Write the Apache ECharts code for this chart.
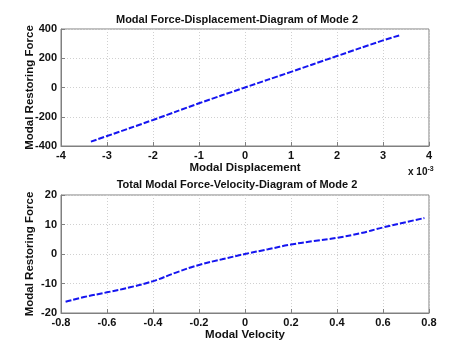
<!DOCTYPE html>
<html lang="en">
<head>
  <meta charset="UTF-8">
  <title>Modal Force Diagrams of Mode 2</title>
  <script src="https://cdn.jsdelivr.net/npm/echarts@6/dist/echarts.min.js"></script>
</head>
<style>
  body { margin: 0; background: #fff; }
  #main { width: 474px; height: 353px; }
</style>
<body>
  <div id="main"></div>
  <script>
    // top plot: displacement (in units of 1e-3) vs restoring force
    var dispX = [-3.35, -3, -2, -1, 0, 1, 2, 3, 3.38];
    var dispF = [-370, -332, -222, -108, 0, 107, 215, 322, 358];

    // bottom plot: velocity vs restoring force
    var velX = [-0.78, -0.7, -0.6, -0.5, -0.4, -0.3, -0.2, -0.1, 0, 0.1, 0.2, 0.3, 0.4, 0.5, 0.6, 0.7, 0.78];
    var velF = [-16.2, -14.6, -13, -11.3, -9.2, -6.3, -3.7, -1.8, 0, 1.6, 3.2, 4.4, 5.5, 7, 9, 10.8, 12.2];

    var font = 'Liberation Sans, Arial, sans-serif';
    var myChart = echarts.init(document.getElementById('main'));

    function pairs(xs, ys) {
      return xs.map(function (x, i) { return [x, ys[i]]; });
    }

    var gridLine = { show: true, lineStyle: { color: '#d0d0d0', type: [1, 2], width: 1 } };
    var axisLine = { show: true, onZero: false, lineStyle: { color: '#808080', width: 1 } };
    var tick = { show: true, inside: true, length: 4, lineStyle: { color: '#808080' } };
    var lbl = { color: '#111', fontFamily: font, fontWeight: 'bold', fontSize: 11, margin: 4 };
    var nameStyle = { color: '#111', fontFamily: font, fontWeight: 'bold', fontSize: 11.5 };
    var titleStyle = { fontFamily: font, fontWeight: 'bold', fontSize: 11, color: '#111' };

    option = {
      animation: false,
      title: [
        { text: 'Modal Force-Displacement-Diagram of Mode 2', left: 'center', top: 9, textStyle: titleStyle },
        { text: 'Total Modal Force-Velocity-Diagram of Mode 2', left: 'center', top: 174, textStyle: titleStyle },
        { text: 'x 10{s|-3}', left: 403, top: 161,
          textStyle: { fontFamily: font, fontWeight: 'bold', fontSize: 10, color: '#111',
            rich: { s: { fontFamily: font, fontWeight: 'bold', fontSize: 7, color: '#111', verticalAlign: 'top', padding: [0, 0, 6, 0] } } } }
      ],
      grid: [
        { left: 61, top: 29, width: 368, height: 117, show: true, borderColor: '#808080', borderWidth: 1 },
        { left: 61, top: 195, width: 368, height: 118, show: true, borderColor: '#808080', borderWidth: 1 }
      ],
      xAxis: [
        { gridIndex: 0, type: 'value', min: -4, max: 4, interval: 1,
          name: 'Modal Displacement', nameLocation: 'middle', nameGap: 15, nameTextStyle: nameStyle,
          axisLine: axisLine, axisTick: tick, axisLabel: lbl, splitLine: gridLine },
        { gridIndex: 1, type: 'value', min: -0.8, max: 0.8, interval: 0.2,
          name: 'Modal Velocity', nameLocation: 'middle', nameGap: 16, nameTextStyle: nameStyle,
          axisLine: axisLine, axisTick: tick,
          axisLabel: Object.assign({}, lbl, { formatter: function (v) { return +v.toFixed(1) + ''; } }),
          splitLine: gridLine }
      ],
      yAxis: [
        { gridIndex: 0, type: 'value', min: -400, max: 400, interval: 200,
          name: 'Modal Restoring Force', nameLocation: 'middle', nameGap: 25, nameMoveOverlap: false,
          nameTextStyle: nameStyle,
          axisLine: axisLine, axisTick: tick, axisLabel: lbl, splitLine: gridLine },
        { gridIndex: 1, type: 'value', min: -20, max: 20, interval: 10,
          name: 'Modal Restoring Force', nameLocation: 'middle', nameGap: 25, nameMoveOverlap: false,
          nameTextStyle: nameStyle,
          axisLine: axisLine, axisTick: tick, axisLabel: lbl, splitLine: gridLine }
      ],
      series: [
        { type: 'line', xAxisIndex: 0, yAxisIndex: 0, data: pairs(dispX, dispF),
          showSymbol: false, smooth: true,
          lineStyle: { color: '#1515f0', width: 2, type: [6, 2] } },
        { type: 'line', xAxisIndex: 1, yAxisIndex: 1, data: pairs(velX, velF),
          showSymbol: false, smooth: true,
          lineStyle: { color: '#1515f0', width: 2, type: [6, 2] } }
      ]
    };

    myChart.setOption(option);
  </script>
</body>
</html>
